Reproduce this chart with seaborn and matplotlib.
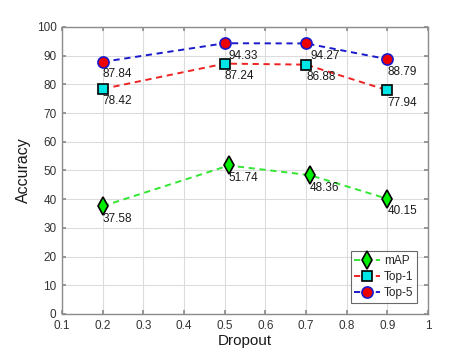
import numpy as np
import pandas as pd
import matplotlib
matplotlib.use('Agg')
import matplotlib.pyplot as plt
import seaborn as sns

# data
dropout_map = [0.2, 0.51, 0.71, 0.9]
dropout_top = [0.2, 0.5, 0.7, 0.9]
map_vals = [37.58, 51.74, 48.36, 40.15]
top1_vals = [78.42, 87.24, 86.88, 77.94]
top5_vals = [87.84, 94.33, 94.27, 88.79]
top5_label_x = [0.2, 0.51, 0.71, 0.9]

sns.set_theme(style='whitegrid')
plt.rcParams['font.family'] = ['Liberation Sans', 'DejaVu Sans']

fig = plt.figure(figsize=(4.74, 3.55), dpi=100)
ax = fig.add_axes([0.131, 0.1155, 0.772, 0.8085])

df_map = pd.DataFrame({'Dropout': dropout_map, 'Accuracy': map_vals})
df_t1 = pd.DataFrame({'Dropout': dropout_top, 'Accuracy': top1_vals})
df_t5 = pd.DataFrame({'Dropout': dropout_top, 'Accuracy': top5_vals})

dash = (0, (3.2, 2.4))
sns.lineplot(data=df_map, x='Dropout', y='Accuracy', ax=ax, color='#33e633',
             linestyle=dash, lw=1.4, marker='d', markersize=9,
             markerfacecolor='#00ee00', markeredgecolor='black', markeredgewidth=1.2,
             label='mAP')
sns.lineplot(data=df_t1, x='Dropout', y='Accuracy', ax=ax, color='#ee2222',
             linestyle=dash, lw=1.4, marker='s', markersize=6.5,
             markerfacecolor='#00e6e6', markeredgecolor='black', markeredgewidth=1.2,
             label='Top-1')
sns.lineplot(data=df_t5, x='Dropout', y='Accuracy', ax=ax, color='#1a1acc',
             linestyle=dash, lw=1.4, marker='o', markersize=8,
             markerfacecolor='#ee0000', markeredgecolor='#1a1acc', markeredgewidth=1.2,
             label='Top-5')

# value labels
for xs, ys in [(dropout_map, map_vals), (dropout_top, top1_vals), (top5_label_x, top5_vals)]:
    for x, y in zip(xs, ys):
        ax.annotate(f'{y:.2f}', (x, y), xytext=(0, -9), textcoords='offset points',
                    ha='left', va='center', fontsize=8.5, color='#1a1a1a')

ax.set_xlim(0.1, 1.0)
ax.set_ylim(0, 100)
ax.set_xticks(np.arange(0.1, 1.01, 0.1))
ax.set_xticklabels(['0.1', '0.2', '0.3', '0.4', '0.5', '0.6', '0.7', '0.8', '0.9', '1'])
ax.set_yticks(np.arange(0, 101, 10))
ax.set_xlabel('Dropout', fontsize=11, color='#1a1a1a', labelpad=2)
ax.set_ylabel('Accuracy', fontsize=11.5, color='#1a1a1a', labelpad=4)

ax.grid(True, color='#dcdcdc', lw=0.8)
for s in ax.spines.values():
    s.set_visible(True)
    s.set_color('#8c8c8c')
    s.set_linewidth(1.0)
ax.tick_params(axis='both', direction='in', length=3, color='#8c8c8c',
               labelsize=8.5, labelcolor='#333333', top=True, right=True,
               bottom=True, left=True, pad=4)

leg = ax.legend(loc='lower right', bbox_to_anchor=(0.97, 0.04), fontsize=8.5,
                frameon=True, fancybox=False, handlelength=2.2, handletextpad=0.3,
                borderpad=0.3, labelspacing=0.35, borderaxespad=0)
leg.get_frame().set_edgecolor('#444444')
leg.get_frame().set_linewidth(0.8)

fig.savefig('out.png', dpi=100)
